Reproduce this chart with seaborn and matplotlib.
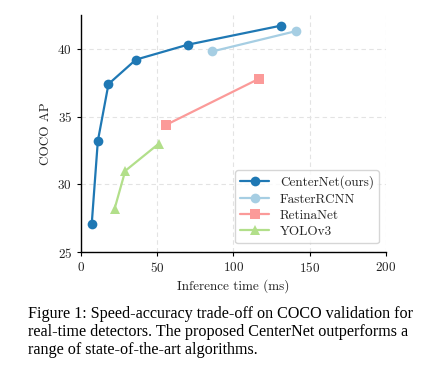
import numpy as np
import pandas as pd
import matplotlib
matplotlib.use("Agg")
import matplotlib.pyplot as plt
import seaborn as sns

# Data
centernet_ms = [7, 11, 18, 36, 70, 131]
centernet_ap = [27.1, 33.2, 37.4, 39.2, 40.3, 41.7]
faster_ms = [86, 141]
faster_ap = [39.8, 41.3]
retina_ms = [56, 117]
retina_ap = [34.4, 37.8]
yolo_ms = [22, 29, 51]
yolo_ap = [28.2, 31.0, 33.0]

series_names = ["CenterNet(ours)", "FasterRCNN", "RetinaNet", "YOLOv3"]
series_x = [centernet_ms, faster_ms, retina_ms, yolo_ms]
series_y = [centernet_ap, faster_ap, retina_ap, yolo_ap]
colors = ["#1f78b4", "#a6cee3", "#fb9a99", "#b2df8a"]
markers = ["o", "o", "s", "^"]

caption = ("Figure 1: Speed-accuracy trade-off on COCO validation for\n"
           "real-time detectors. The proposed CenterNet outperforms a\n"
           "range of state-of-the-art algorithms.")

sns.set_theme(style="ticks")
plt.rcParams["font.family"] = ["cmr10", "DejaVu Serif"]
plt.rcParams["axes.formatter.use_mathtext"] = True
plt.rcParams["mathtext.fontset"] = "cm"

fig = plt.figure(figsize=(4.29, 3.72), dpi=100)
ax = fig.add_axes([0.189, 0.322, 0.71, 0.638])

rows = []
for name, xs, ys in zip(series_names, series_x, series_y):
    for x, y in zip(xs, ys):
        rows.append({"method": name, "time": x, "ap": y})
df = pd.DataFrame(rows)

for name, c, m in zip(series_names, colors, markers):
    sub = df[df["method"] == name]
    sns.lineplot(data=sub, x="time", y="ap", ax=ax, color=c, marker=m,
                 markersize=7, markeredgewidth=0, linewidth=1.6,
                 label=name, sort=False, estimator=None)

ax.set_xlim(0, 200)
ax.set_ylim(25, 42.5)
ax.set_xticks([0, 50, 100, 150, 200])
ax.set_yticks([25, 30, 35, 40])
ax.grid(True, linestyle=(0, (4, 3)), color="#e3e3e3", linewidth=0.8)
ax.set_axisbelow(True)
sns.despine(ax=ax)
for s in ["left", "bottom"]:
    ax.spines[s].set_color("black")
    ax.spines[s].set_linewidth(1.0)
ax.tick_params(labelsize=9.5, length=3, width=0.8, colors="black",
               labelcolor="#222222")
ax.set_xlabel("Inference time (ms)", fontsize=9.5, color="#222222", labelpad=3)
ax.set_ylabel("COCO AP", fontsize=9.5, color="#222222")

leg = ax.legend(loc="lower right", fontsize=9.5, frameon=True, fancybox=True,
                handlelength=2.2, borderpad=0.4, labelspacing=0.3,
                bbox_to_anchor=(1.0, 0.01))
leg.get_frame().set_edgecolor("#cccccc")

fig.text(0.066, 0.108, caption, fontsize=11.6, family=["Liberation Serif"],
         ha="left", va="center", linespacing=1.18, color="black")

fig.savefig("out.png", dpi=100, facecolor="white")
